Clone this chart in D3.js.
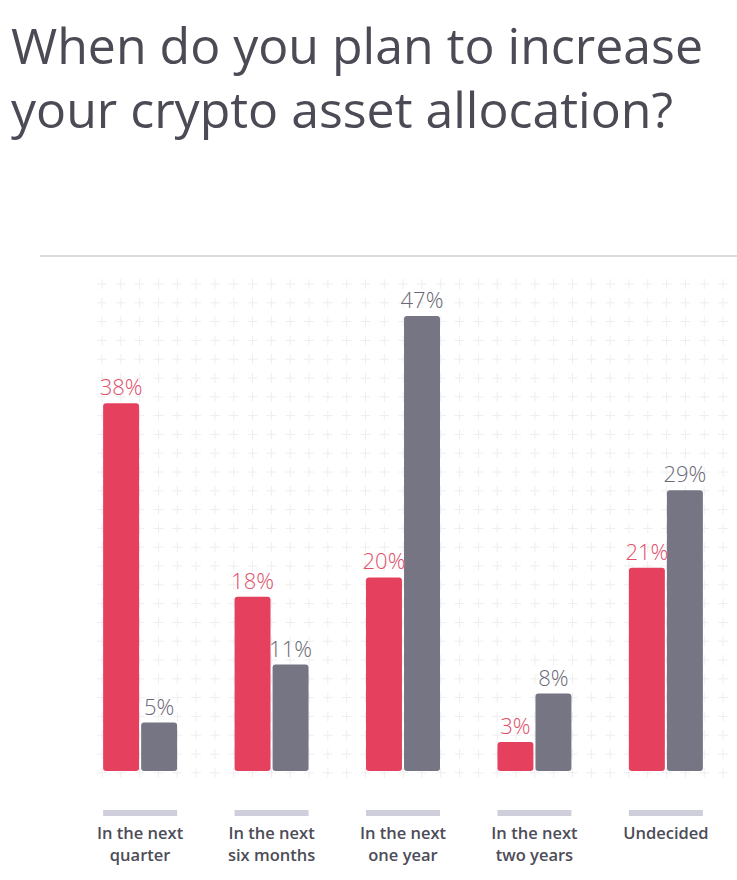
<!DOCTYPE html>
<html>
<head>
<meta charset="utf-8">
<script src="https://cdn.jsdelivr.net/npm/d3@7"></script>
<style>
  html, body { margin: 0; padding: 0; background: #fff; }
  svg { display: block; }
</style>
</head>
<body>
<script>
'use strict';

// Chart data
var categories = [
  "In the next quarter",
  "In the next six months",
  "In the next one year",
  "In the next two years",
  "Undecided"
];
var categoryLines = [
  ["In the next", "quarter"],
  ["In the next", "six months"],
  ["In the next", "one year"],
  ["In the next", "two years"],
  ["Undecided"]
];
var seriesNames = ["red", "gray"];
var redValues = [38, 18, 20, 3, 21];
var grayValues = [5, 11, 47, 8, 29];
var titleLines = ["When do you plan to increase", "your crypto asset allocation?"];

(function() {

  var width = 737;
  var height = 880;

  var colors = { red: "#e5415f", gray: "#767584" };
  var labelColors = { red: "#e0506b", gray: "#6a6976" };

  var svg = d3.select("body")
      .append("svg")
      .attr("width", width)
      .attr("height", height);

  // Title
  svg.append("g")
      .selectAll("text")
      .data(titleLines)
      .enter()
      .append("text")
      .attr("x", 11)
      .attr("y", function(d, i) { return 64 + i * 64; })
      .attr("font-family", "'Open Sans', sans-serif")
      .attr("font-size", 50)
      .attr("font-weight", 400)
      .attr("fill", "#4b4a55")
      .text(function(d) { return d; });

  // Rule under the title
  svg.append("line")
      .attr("x1", 40).attr("x2", width)
      .attr("y1", 256).attr("y2", 256)
      .attr("stroke", "#dcdcdc")
      .attr("stroke-width", 2);

  // Background grid of small crosses
  var grid = svg.append("g");
  var gx = d3.range(34).map(function(i) { return 102 + i * 18.82; });
  var gy = d3.range(27).map(function(i) { return 284 + i * 18.8; });
  gy.forEach(function(y) {
    grid.selectAll(null)
        .data(gx)
        .enter()
        .append("path")
        .attr("d", function(x) {
          return "M" + (x - 5) + "," + y + "H" + (x + 5) + "M" + x + "," + (y - 5) + "V" + (y + 5);
        })
        .attr("stroke", "#eeeeee")
        .attr("stroke-width", 1)
        .attr("fill", "none");
  });

  // Scales
  var x = d3.scaleBand()
      .domain(categories)
      .range([74.4, 731.6]);

  var groupWidth = 74;
  var xSub = d3.scaleBand()
      .domain(seriesNames)
      .range([0, groupWidth])
      .paddingInner(0.054);

  var y = d3.scaleLinear()
      .domain([0, 50])
      .range([771, 771 - 484]);

  var rows = categories.map(function(c, i) {
    return {
      category: c,
      lines: categoryLines[i],
      values: [
        { key: "red", value: redValues[i] },
        { key: "gray", value: grayValues[i] }
      ]
    };
  });

  var groups = svg.append("g")
      .selectAll("g")
      .data(rows)
      .enter()
      .append("g")
      .attr("transform", function(d) {
        return "translate(" + (x(d.category) + x.bandwidth() / 2 - groupWidth / 2) + ",0)";
      });

  // Bars
  groups.selectAll("rect.bar")
      .data(function(d) { return d.values; })
      .enter()
      .append("rect")
      .attr("class", "bar")
      .attr("x", function(d) { return xSub(d.key); })
      .attr("y", function(d) { return y(d.value); })
      .attr("width", xSub.bandwidth())
      .attr("height", function(d) { return y(0) - y(d.value); })
      .attr("rx", 3)
      .attr("fill", function(d) { return colors[d.key]; });

  // Value labels
  groups.selectAll("text.value")
      .data(function(d) { return d.values; })
      .enter()
      .append("text")
      .attr("class", "value")
      .attr("x", function(d) { return xSub(d.key) + xSub.bandwidth() / 2; })
      .attr("y", function(d) { return y(d.value) - 8; })
      .attr("text-anchor", "middle")
      .attr("font-family", "'Open Sans', sans-serif")
      .attr("font-size", 22)
      .attr("font-weight", 300)
      .attr("fill", function(d) { return labelColors[d.key]; })
      .text(function(d) { return d.value + "%"; });

  // Category underline
  groups.append("rect")
      .attr("x", 0)
      .attr("y", 810)
      .attr("width", groupWidth)
      .attr("height", 6)
      .attr("fill", "#cfcfdb");

  // Category labels (one text per line)
  groups.selectAll("text.cat")
      .data(function(d) { return d.lines; })
      .enter()
      .append("text")
      .attr("class", "cat")
      .attr("x", groupWidth / 2)
      .attr("y", function(d, i) { return 839 + i * 22; })
      .attr("text-anchor", "middle")
      .attr("font-family", "'Open Sans', sans-serif")
      .attr("font-size", 16.5)
      .attr("font-weight", 600)
      .attr("fill", "#4d4c58")
      .text(function(d) { return d; });

})();
</script>
</body>
</html>
